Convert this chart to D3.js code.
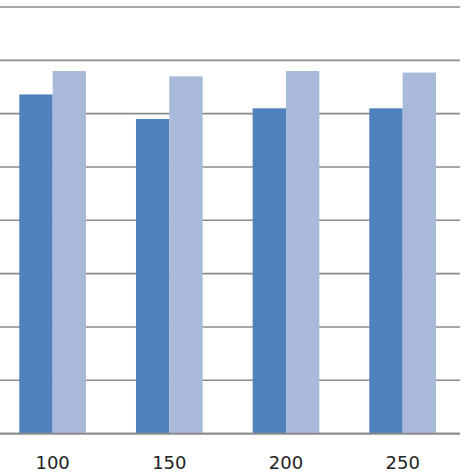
<!DOCTYPE html>
<html>
<head>
<meta charset="utf-8">
<script src="https://cdn.jsdelivr.net/npm/d3@7"></script>
<style>
  html, body { margin: 0; padding: 0; background: #fff; }
  svg { display: block; }
</style>
</head>
<body>
<svg id="chart" width="474" height="474"></svg>
<script>
const categories = ["100", "150", "200", "250"];
const seriesA = [63.6, 59.0, 61.0, 61.0];
const seriesB = [68.0, 67.0, 68.0, 67.7];
const yTicks = [0, 10, 20, 30, 40, 50, 60, 70, 80];

const width = 474;
const height = 474;
const plot = { left: -5.7, right: 460, top: 7, bottom: 433.6 };

const svg = d3.select("#chart");

// Scales
const x = d3
  .scaleBand()
  .domain(categories)
  .range([plot.left, plot.left + 116.67 * categories.length])
  .paddingInner(0.4286)
  .paddingOuter(0.2143);

const y = d3.scaleLinear().domain([0, 80]).range([plot.bottom, plot.top]);

const sub = d3
  .scaleBand()
  .domain(["a", "b"])
  .range([0, x.bandwidth()]);

// Gridlines
svg
  .append("g")
  .selectAll("line")
  .data(yTicks)
  .enter()
  .append("line")
  .attr("x1", 0)
  .attr("x2", plot.right)
  .attr("y1", (d) => y(d))
  .attr("y2", (d) => y(d))
  .attr("stroke", "#8c8c8c")
  .attr("stroke-width", 1.6);

// Bars
const groups = svg
  .append("g")
  .selectAll("g")
  .data(categories.map((c, i) => ({ c, a: seriesA[i], b: seriesB[i] })))
  .enter()
  .append("g")
  .attr("transform", (d) => `translate(${x(d.c)},0)`);

groups
  .append("rect")
  .attr("x", sub("a"))
  .attr("y", (d) => y(d.a))
  .attr("width", sub.bandwidth())
  .attr("height", (d) => y(0) - y(d.a))
  .attr("fill", "#4f81bd");

groups
  .append("rect")
  .attr("x", sub("b"))
  .attr("y", (d) => y(d.b))
  .attr("width", sub.bandwidth())
  .attr("height", (d) => y(0) - y(d.b))
  .attr("fill", "#a9b9d9");

// Baseline
svg
  .append("line")
  .attr("x1", 0)
  .attr("x2", plot.right)
  .attr("y1", y(0))
  .attr("y2", y(0))
  .attr("stroke", "#8c8c8c")
  .attr("stroke-width", 1.6);

// X-axis labels
const xAxis = svg
  .append("g")
  .attr("transform", `translate(0,${y(0)})`)
  .call(d3.axisBottom(x).tickSize(0).tickPadding(23));

xAxis.select(".domain").remove();
xAxis
  .selectAll("text")
  .attr("font-family", "DejaVu Sans, sans-serif")
  .attr("font-size", 18)
  .attr("fill", "#222");
</script>
</body>
</html>
